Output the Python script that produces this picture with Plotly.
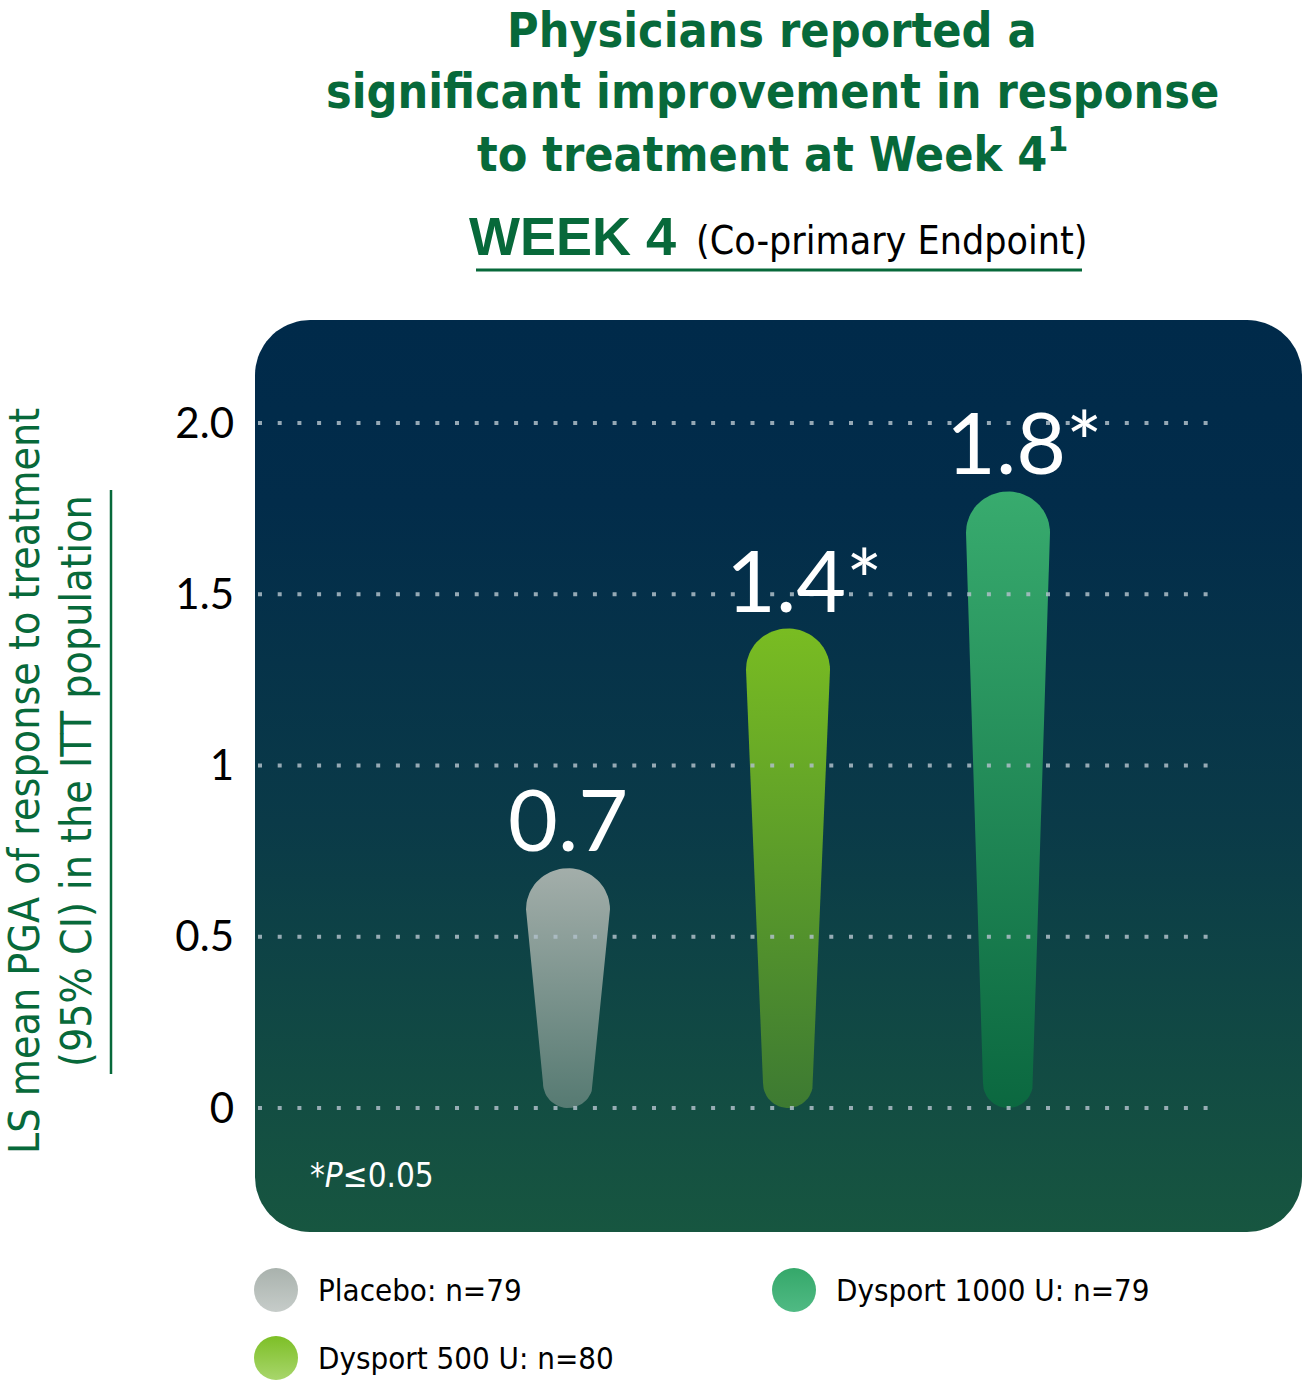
import numpy as np
import plotly.graph_objects as go

# ----------------------------------------------- DATA -------------------------------------------------------
groups = ["Placebo", "Dysport 500 U", "Dysport 1000 U"]
ls_means = [0.7, 1.4, 1.8]
significant = [False, True, True]
n_values = [79, 80, 79]
y_ticks = [0, 0.5, 1, 1.5, 2.0]
y_tick_labels = ["0", "0.5", "1", "1.5", "2.0"]

title_lines = ["Physicians reported a",
               "significant improvement in response",
               "to treatment at Week 4<sup>1</sup>"]
y_title_lines = ["LS mean PGA of response to treatment",
                 "(95% CI) in the ITT population"]

# ----------------------------------------------- STYLE / LAYOUT -------------------------------------------------------
W, H = 1304, 1383
GREEN = "#07693a"
NARROW = "DejaVu Sans Condensed, sans-serif"


def px(x):
    return x / W


def py(y):
    return 1 - y / H


# panel box in page pixels
P_L, P_R, P_T, P_B = 255, 1302, 320, 1232
# axis scale (pixels per unit)
PPX, PPY = 220, 342.5
X0_PX, Y0_PX = 568, 1108

x_range = [(P_L - X0_PX) / PPX, (P_R - X0_PX) / PPX]
y_range = [-(P_B - Y0_PX) / PPY, (Y0_PX - P_T) / PPY]

bar_grad = [["#567a72", "#a3aeaa"], ["#3d7a32", "#79bc22"], ["#0b6840", "#38ab6e"]]
legend_cols = [["#a9b2ad", "#c6ccc9"], ["#7dbf26", "#a8d66c"], ["#35a86a", "#50ba84"]]


def rounded_rect(x0, x1, y0, y1, r_px):
    rx, ry = r_px / PPX, r_px / PPY
    xs, ys = [], []
    corners = [(x1 - rx, y1 - ry, 0, np.pi / 2), (x0 + rx, y1 - ry, np.pi / 2, np.pi),
               (x0 + rx, y0 + ry, np.pi, 1.5 * np.pi), (x1 - rx, y0 + ry, 1.5 * np.pi, 2 * np.pi)]
    for cx, cy, a0, a1 in corners:
        t = np.linspace(a0, a1, 20)
        xs += list(cx + rx * np.cos(t))
        ys += list(cy + ry * np.sin(t))
    xs.append(xs[0]); ys.append(ys[0])
    return xs, ys


def bar_shape(i, v):
    top_half, bot_half = 42 / PPX, 25 / PPX
    cap_h, bot_h = 41 / PPY, 25 / PPY
    xs, ys = [], []
    for t in np.linspace(np.pi, 0, 40):
        xs.append(i + top_half * np.cos(t)); ys.append(v - cap_h + cap_h * np.sin(t))
    for t in np.linspace(0, -np.pi, 30):
        xs.append(i + bot_half * np.cos(t)); ys.append(bot_h + bot_h * np.sin(t))
    xs.append(xs[0]); ys.append(ys[0])
    return xs, ys


fig = go.Figure()

# dark panel
pan_x, pan_y = rounded_rect(x_range[0], x_range[1], y_range[0], y_range[1], 55)
fig.add_trace(go.Scatter(x=pan_x, y=pan_y, mode="lines", fill="toself", line=dict(width=0),
                         fillgradient=dict(type="vertical",
                                           colorscale=[[0, "#175640"], [0.45, "#0a3a48"],
                                                       [0.8, "#022c4a"], [1, "#002a4a"]]),
                         hoverinfo="skip", showlegend=False))

# tapered bars
for i, (g, v) in enumerate(zip(groups, ls_means)):
    bx, by = bar_shape(i, v)
    fig.add_trace(go.Scatter(x=bx, y=by, mode="lines", fill="toself", line=dict(width=0),
                             fillgradient=dict(type="vertical",
                                               colorscale=[[0, bar_grad[i][0]], [1, bar_grad[i][1]]]),
                             name=g, hoverinfo="skip", showlegend=False))
    txt = f"{v}" + ("*" if significant[i] else "")
    fig.add_annotation(x=i, y=v, xref="x", yref="y", text=txt, showarrow=False,
                       yanchor="bottom", yshift=-3, xshift=16 if significant[i] else 0,
                       font=dict(family="Lato", size=86, color="white"))

# dotted gridlines
for t in y_ticks:
    fig.add_shape(type="line", xref="x", yref="y", x0=(258 - X0_PX) / PPX, x1=(1208 - X0_PX) / PPX,
                  y0=t, y1=t, line=dict(color="rgba(175,190,200,0.85)", width=4, dash="4px,15.7px"))

# legend (page-pixel overlay axes)
leg_pos = [(276, 1290), (276, 1358), (794, 1290)]
for i, g in enumerate(groups):
    lx, ly = leg_pos[i]
    fig.add_trace(go.Scatter(x=[lx], y=[ly], xaxis="x2", yaxis="y2", mode="markers",
                             marker=dict(size=44, color=legend_cols[i][0],
                                         gradient=dict(type="vertical", color=legend_cols[i][1])),
                             hoverinfo="skip", showlegend=False))
    fig.add_annotation(x=px(lx + 40), y=py(ly), xref="paper", yref="paper",
                       text=f"{g}: n={n_values[i]}", showarrow=False, xanchor="left", yanchor="middle",
                       font=dict(family=NARROW, size=31, color="black"))

# titles
for line, yc in zip(title_lines, [30, 91, 151]):
    fig.add_annotation(x=px(772), y=py(yc), xref="paper", yref="paper", text=f"<b>{line}</b>",
                       showarrow=False, xanchor="center", yanchor="middle",
                       font=dict(family=NARROW, size=48, color=GREEN))
fig.add_annotation(x=px(678), y=py(236), xref="paper", yref="paper", text="<b>WEEK 4</b>",
                   showarrow=False, xanchor="right", yanchor="middle",
                   font=dict(family="Liberation Sans, sans-serif", size=54, color=GREEN))
fig.add_annotation(x=px(694), y=py(240), xref="paper", yref="paper", text="(Co-primary Endpoint)",
                   showarrow=False, xanchor="left", yanchor="middle",
                   font=dict(family=NARROW, size=39, color="black"))
fig.add_shape(type="line", xref="paper", yref="paper", x0=px(476), x1=px(1082),
              y0=py(270), y1=py(270), line=dict(color=GREEN, width=3))

# y axis title
for line, xc in zip(y_title_lines, [24, 76]):
    fig.add_annotation(x=px(xc), y=py(781), xref="paper", yref="paper", text=line, textangle=-90,
                       showarrow=False, xanchor="center", yanchor="middle",
                       font=dict(family=NARROW, size=42.5, color=GREEN))
fig.add_shape(type="line", xref="paper", yref="paper", x0=px(111), x1=px(111),
              y0=py(490), y1=py(1074), line=dict(color=GREEN, width=2.5))

# footnote
fig.add_annotation(x=px(308), y=py(1175), xref="paper", yref="paper", text="*<i>P</i>≤0.05",
                   showarrow=False, xanchor="left", yanchor="middle",
                   font=dict(family=NARROW, size=33, color="white"))

fig.update_layout(
    width=W, height=H, margin=dict(l=0, r=0, t=0, b=0),
    paper_bgcolor="white", plot_bgcolor="rgba(0,0,0,0)",
    xaxis=dict(domain=[px(P_L), px(P_R)], range=x_range, visible=False, automargin=False,
               fixedrange=True),
    yaxis=dict(domain=[py(P_B), py(P_T)], range=y_range, tickvals=y_ticks,
               ticktext=y_tick_labels, showgrid=False, zeroline=False, showline=False,
               ticks="", ticklabelstandoff=20, automargin=False,
               tickfont=dict(family="Lato", size=42, color="black")),
    xaxis2=dict(domain=[0, 1], range=[0, W], visible=False, anchor="y2", automargin=False),
    yaxis2=dict(domain=[0, 1], range=[H, 0], visible=False, anchor="x2", automargin=False),
    showlegend=False,
)

# drop the page's default body margin so the figure fills the window
fig.write_html("out.html", config={"displayModeBar": False},
               post_script="document.body.style.margin='0';document.body.style.overflow='hidden';")
